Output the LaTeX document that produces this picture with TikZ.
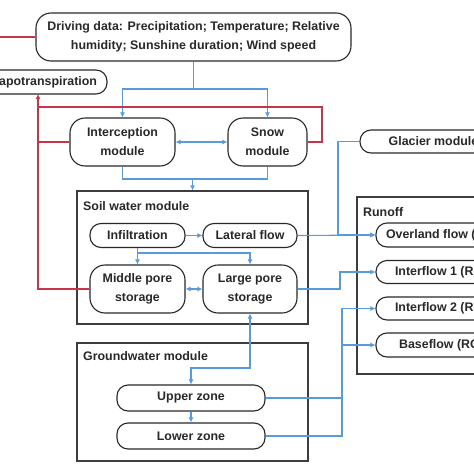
\documentclass[tikz,border=0pt]{standalone}
\usepackage{fontspec}
\setmainfont{Liberation Sans}
\usetikzlibrary{arrows.meta}

\definecolor{flowblue}{RGB}{88,154,222}
\definecolor{etred}{RGB}{200,52,74}
\definecolor{inkgray}{RGB}{40,40,40}
\newcommand{\boxfont}{\fontsize{12.4}{19}\selectfont\bfseries}

\tikzset{
    module/.style={draw=inkgray, line width=1.1pt, rounded corners=15pt, align=center,
        text=inkgray, font=\boxfont, inner sep=0pt},
    bar/.style={module, rounded corners=11pt},
    group/.style={draw=inkgray!90, line width=1.2pt, inner sep=0pt},
    title/.style={anchor=west, inner sep=0pt, text=inkgray, font=\boxfont},
    water/.style={draw=flowblue, line width=1.1pt},
    flow/.style={water, -{Latex[length=5pt,width=5pt]}},
    twoway/.style={water, {Latex[length=5pt,width=5pt]}-{Latex[length=5pt,width=5pt]}},
    et/.style={draw=etred, line width=1.1pt},
    etflow/.style={et, -{Latex[length=5pt,width=5pt]}}
}

\begin{document}
\begin{tikzpicture}[x=1pt,y=-1pt]
            \useasboundingbox (0,0) rectangle (474,474);
            \clip (0,0) rectangle (474,474);

            \node[module, minimum width=315, minimum height=48] (drive) at (193.5, 37)
                {Driving data: Precipitation; Temperature; Relative\\humidity; Sunshine duration; Wind speed};
            \node[bar, minimum width=133, minimum height=24] (evap) at (40.5, 82) {Evapotranspiration};

            \node[module, minimum width=105, minimum height=48] (intc) at (122.5, 142) {Interception\\module};
            \node[module, minimum width=79, minimum height=48] (snow) at (267.5, 142) {Snow\\module};
            \node[bar, minimum width=147, minimum height=23] (glac) at (433.5, 141.5) {Glacier module};

            \node[group, minimum width=231, minimum height=133] (soil) at (192.5, 257.5) {};
            \node[title] (soiltitle) at (83, 206) {Soil water module};
            \node[bar, minimum width=95, minimum height=24] (infil) at (137.5, 235.5) {Infiltration};
            \node[bar, minimum width=94, minimum height=24] (lat) at (250, 235.5) {Lateral flow};
            \node[module, minimum width=95, minimum height=48] (mid) at (137.5, 289) {Middle pore\\storage};
            \node[module, minimum width=94, minimum height=48] (large) at (250, 289) {Large pore\\storage};

            \node[group, minimum width=231, minimum height=118] (gw) at (192.5, 402) {};
            \node[title] (gwtitle) at (83, 356) {Groundwater module};
            \node[bar, minimum width=148, minimum height=26] (upper) at (191, 398) {Upper zone};
            \node[bar, minimum width=148, minimum height=26] (lower) at (191, 436) {Lower zone};

            \node[group, minimum width=160, minimum height=177] (runoff) at (437, 285.5) {};
            \node[title] (runofftitle) at (363, 212) {Runoff};
            \node[bar, minimum width=131, minimum height=24] (over) at (441.5, 235) {Overland flow (RS)};
            \node[bar, minimum width=131, minimum height=23] (intf1) at (441.5, 272) {Interflow 1 (RI1)};
            \node[bar, minimum width=131, minimum height=23] (intf2) at (441.5, 308.5) {Interflow 2 (RI2)};
            \node[bar, minimum width=131, minimum height=24] (base) at (441.5, 345) {Baseflow (RG)};

            \coordinate (split) at (193.5, 89);
            \coordinate (melt) at (192.5, 179);
            \coordinate (perc) at (137.5, 253);
            \coordinate (glacjoin) at (338, 235);
            \coordinate (lpjoin) at (340, 289);
            \coordinate (recharge) at (250, 368);
            \coordinate (upjoin) at (342, 398);
            \coordinate (lowjoin) at (342, 436);
            \coordinate (etin) at (-5, 37);
            \coordinate (ettip) at (38, 94);
            \coordinate (etintc) at (38, 142);
            \coordinate (etsnow) at (322, 142);
            \coordinate (ettop) at (38, 107);

            \draw[water] (drive.south) -- (split);
            \draw[flow] (split) -| (intc.north);
            \draw[flow] (split) -| (snow.north);
            \draw[twoway] (intc) -- (snow);
            \draw[water] (intc.south) |- (melt) -| (snow.south);
            \draw[flow] (melt) -- (soil.north);

            \draw[flow] (infil) -- (lat);
            \draw[flow] (infil.south) -- (mid.north);
            \draw[flow] (perc) -| (large.north);
            \draw[twoway] (mid) -- (large);

            \draw[flow] (lat.east) -- (over.west);
            \draw[flow] (glac.west) -| (glacjoin) -- (over.west);
            \draw[flow] (large.east) -- (lpjoin) |- (intf1.west);
            \draw[twoway] (large.south) -- (recharge) -| (upper.north);

            \draw[flow] (upper) -- (lower);
            \draw[flow] (upper.east) -- (upjoin) |- (intf2.west);
            \draw[flow] (lower.east) -- (lowjoin) |- (base.west);

            \draw[et] (etin) -- (drive.west);
            \draw[etflow] (mid.west) -| (ettip);
            \draw[et] (intc.west) -- (etintc);
            \draw[et] (snow.east) -- (etsnow) |- (ettop);
\end{tikzpicture}
\end{document}
